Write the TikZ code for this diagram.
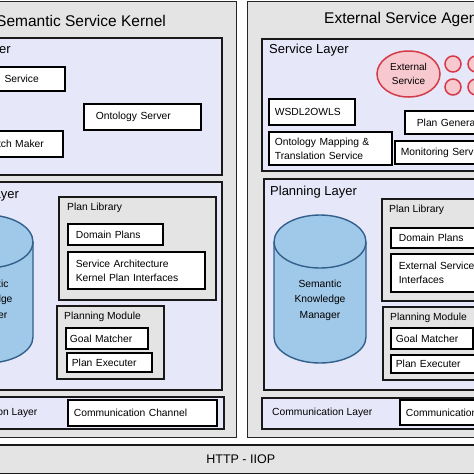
\documentclass[tikz,border=0pt]{standalone}
\usepackage{fontspec}
\setmainfont{Liberation Sans}
\usetikzlibrary{positioning, shapes.geometric}
\definecolor{panelgray}{RGB}{228,228,228}
\definecolor{layerblue}{RGB}{231,231,250}
\definecolor{dbfill}{RGB}{160,200,232}
\definecolor{dbline}{RGB}{48,96,140}
\definecolor{svcpink}{RGB}{247,200,206}
\definecolor{svcred}{RGB}{212,58,72}
\tikzset{
  panel/.style={draw=black!85, line width=1.3pt, fill=panelgray, anchor=north west, inner sep=0pt},
  layer/.style={draw=black!90, line width=1.5pt, fill=layerblue, anchor=north west, inner sep=0pt},
  group/.style={draw=black!90, line width=1.5pt, fill=panelgray, anchor=north west, inner sep=0pt},
  box/.style={draw=black, line width=1.7pt, fill=white, anchor=north west, align=left,
    inner ysep=1pt, font=\fontsize{10.3}{14}\selectfont},
  bus/.style={draw=black!90, line width=1.5pt, fill=panelgray, anchor=north west,
    inner sep=0pt, font=\fontsize{12.5}{15}\selectfont},
  title/.style={anchor=west, inner sep=0pt, font=\fontsize{15.5}{18}\selectfont},
  layertitle/.style={anchor=west, inner sep=0pt, font=\fontsize{13}{15}\selectfont},
  grouptitle/.style={anchor=west, inner sep=0pt, font=\fontsize{10.3}{13}\selectfont},
  db/.style={draw=dbline, line width=1.4pt, fill=dbfill},
  dbtext/.style={align=center, inner sep=0pt, font=\fontsize{10.3}{15.5}\selectfont},
  extsvc/.style={ellipse, draw=svcred, line width=1.5pt, fill=svcpink, minimum width=63pt,
    minimum height=46pt, inner sep=0pt, align=center, font=\fontsize{10}{14}\selectfont},
  minisvc/.style={circle, draw=svcred, line width=1.5pt, fill=svcpink, minimum size=16pt, inner sep=0pt}
}
\begin{document}
\begin{tikzpicture}[x=1pt, y=-1pt]
  \useasboundingbox (0,0) rectangle (474,474);
  \clip (0,0) rectangle (474,474);
  \fill[white] (0,0) rectangle (474,474);
  % panels
  \node[panel, minimum width=326pt, minimum height=436pt] (kernel) at (-90,1) {};
  \node[panel, minimum width=326pt, minimum height=436pt] (agent) at (247,1) {};
  \node[title] (kerneltitle) at (-4,21) {Semantic Service Kernel};
  \node[title] (agenttitle) at (324,19) {External Service Agent};
  % layers of the kernel
  \node[layer, minimum width=297pt, minimum height=137pt] (ksvcL) at (-76,37) {};
  \node[layer, minimum width=297pt, minimum height=208pt] (kplnL) at (-76,181) {};
  \node[layer, minimum width=299pt, minimum height=32pt] (kcomL) at (-76,396) {};
  \node[layertitle] (ksvctitle) at (-69,50) {Service Layer};
  \node[layertitle] (kplntitle) at (-68,195) {Planning Layer};
  \node[grouptitle] (kcomtitle) at (-63,413) {Communication Layer};
  \node[box, minimum width=124pt, minimum height=24pt, text width=72pt, inner xsep=26pt, align=right] (ksvc) at (-60,66) {Service};
  \node[box, minimum width=117pt, minimum height=26pt, text width=93pt, inner xsep=12pt] (ontsrv) at (83,103) {Ontology Server};
  \node[box, minimum width=122pt, minimum height=26pt, text width=84pt, inner xsep=19pt, align=right] (match) at (-60,130) {Match Maker};
  \node[group, minimum width=157pt, minimum height=103pt] (klib) at (58,196) {};
  \node[grouptitle] (klibtitle) at (67,208) {Plan Library};
  \node[box, minimum width=95pt, minimum height=21pt, text width=79pt, inner xsep=8pt] (kdomain) at (67,223) {Domain Plans};
  \node[box, minimum width=137pt, minimum height=37pt, text width=121pt, inner xsep=8pt] (karch) at (67,251) {Service Architecture\\Kernel Plan Interfaces};
  \node[group, minimum width=107pt, minimum height=73pt] (kmod) at (56,305) {};
  \node[grouptitle] (kmodtitle) at (64,317) {Planning Module};
  \node[box, minimum width=82pt, minimum height=21pt, text width=74pt, inner xsep=4pt] (kgoal) at (65,327) {Goal Matcher};
  \node[box, minimum width=85pt, minimum height=19pt, text width=75pt, inner xsep=5pt] (kexec) at (66,352) {Plan Executer};
  \node[box, minimum width=149pt, minimum height=26pt, text width=137pt, inner xsep=6pt] (kchan) at (67,399) {Communication Channel};
  % layers of the agent
  \node[layer, minimum width=297pt, minimum height=132pt] (asvcL) at (261,38) {};
  \node[layer, minimum width=297pt, minimum height=211pt] (aplnL) at (263,178) {};
  \node[layer, minimum width=297pt, minimum height=31pt] (acomL) at (261,397) {};
  \node[layertitle] (asvctitle) at (269,50) {Service Layer};
  \node[layertitle] (aplntitle) at (270,192) {Planning Layer};
  \node[grouptitle] (acomtitle) at (272,413) {Communication Layer};
  \node[extsvc] (extsvc) at (408.5,74) {External\\Service};
  \foreach \cx in {453,476}
    \foreach \cy in {64,87}
      \node[minisvc] (svc-\cx-\cy) at (\cx,\cy) {};
  \node[box, minimum width=86pt, minimum height=26pt, text width=74pt, inner xsep=6pt] (wsdl) at (268,98) {WSDL2OWLS};
  \node[box, minimum width=123pt, minimum height=33pt, text width=111pt, inner xsep=6pt] (ontmap) at (268,131) {Ontology Mapping \&\\Translation Service};
  \node[box, minimum width=120pt, minimum height=23pt, text width=96pt, inner xsep=12pt] (plangen) at (404,110) {Plan Generator};
  \node[box, minimum width=130pt, minimum height=23pt, text width=118pt, inner xsep=6pt] (monitor) at (394,140) {Monitoring Service};
  \node[group, minimum width=157pt, minimum height=102pt] (alib) at (381,198) {};
  \node[grouptitle] (alibtitle) at (389,210) {Plan Library};
  \node[box, minimum width=95pt, minimum height=20pt, text width=79pt, inner xsep=8pt] (adomain) at (390,227) {Domain Plans};
  \node[box, minimum width=137pt, minimum height=38pt, text width=121pt, inner xsep=8pt] (aext) at (390,253) {External Service\\Interfaces};
  \node[group, minimum width=107pt, minimum height=73pt] (amod) at (382,306) {};
  \node[grouptitle] (amodtitle) at (390,318) {Planning Module};
  \node[box, minimum width=82pt, minimum height=21pt, text width=72pt, inner xsep=5pt] (agoal) at (390,327) {Goal Matcher};
  \node[box, minimum width=85pt, minimum height=18pt, text width=75pt, inner xsep=5pt] (aexec) at (390,354) {Plan Executer};
  \node[box, minimum width=149pt, minimum height=25pt, text width=137pt, inner xsep=6pt] (achan) at (399,399) {Communication Channel};
  % knowledge managers
  \foreach \cx/\nm in {-13/kskm, 320/askm}{
    \draw[db] (\cx-46,242) -- (\cx-46,337) arc[start angle=180, end angle=360, x radius=46pt, y radius=26pt]
      -- (\cx+46,242) arc[start angle=0, end angle=180, x radius=46pt, y radius=27pt] -- cycle;
    \draw[db, fill=none] (\cx-46,242) arc[start angle=180, end angle=360, x radius=46pt, y radius=26pt];
    \node[dbtext] (\nm) at (\cx,300) {Semantic\\Knowledge\\Manager};
  }
  % transport
  \node[bus, minimum width=520pt, minimum height=29pt] (bus) at (-20,444) {HTTP - IIOP};
\end{tikzpicture}
\end{document}
